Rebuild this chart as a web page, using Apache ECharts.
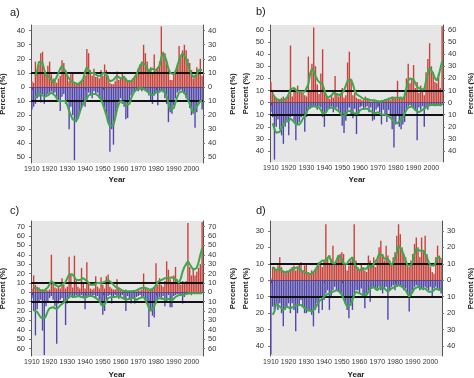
<!DOCTYPE html>
<html>
<head>
<meta charset="utf-8">
<script src="https://cdn.jsdelivr.net/npm/echarts@6/dist/echarts.min.js"></script>
<style>html,body{margin:0;padding:0;background:#fff}#c{width:474px;height:378px}</style>
</head>
<body>
<div id="c"></div>
<script>
// ---- data ----
var years = [];
for (var y = 1910; y <= 2006; y++) years.push(String(y));
var panelLabels = ['a)', 'b)', 'c)', 'd)'];
var yearTickLabels = ['1910','1920','1930','1940','1950','1960','1970','1980','1990','2000'];

var aRed = [4,3,18,12,16,24,25,10,8,15, 18,9,6,5,3,6,8,19,17,12, 8,4,9,10,3,2,2,3,4,5, 8,27,24,12,8,13,7,7,6,12, 8,16,12,8,3,2,2,4,11,5, 6,10,8,6,4,5,4,6,8,10, 13,16,18,30,24,18,13,14,10,23, 12,14,18,43,25,24,18,12,5,5, 10,12,15,29,22,26,30,26,20,17, 12,6,8,14,12,20,8];
var aBlue = [-16,-14,-12,-8,-7,-11,-5,-12,-7,-5, -4,-3,-5,-4,-8,-10,-17,-7,-5,-12, -10,-30,-14,-20,-52,-25,-22,-18,-15,-12, -14,-10,-4,-5,-8,-3,-5,-4,-8,-10, -12,-15,-20,-25,-46,-30,-41,-22,-15,-10, -8,-12,-14,-23,-22,-10,-6,-4,-3,-2, -3,-2,-3,-2,-3,-4,-6,-10,-12,-6, -4,-13,-4,-3,-4,-8,-12,-25,-18,-19, -13,-8,-4,-3,-2,-3,-5,-8,-10,-15, -20,-19,-29,-18,-12,-10,-16];
var aUp = [null,null,8,12,18,19,17,12,8,9, 7,5,3,4,7,10,13,15,14,11, 8,6,4,3,3,3,2,3,4,6, 11,14,13,10,9,10,10,8,7,8, 10,10,9,6,4,4,5,6,8,7, 6,6,7,6,4,4,4,5,7,9, 12,15,17,18,16,13,11,12,13,13, 12,11,15,21,24,22,18,13,10,9, 9,11,15,19,22,24,23,20,16,12, 9,7,7,9,12,13,12];
var aLo = [null,null,-8,-5,-4,-5,-6,-7,-7,-6, -5,-4,-5,-6,-8,-10,-11,-10,-9,-10, -13,-17,-20,-23,-24,-24,-22,-18,-14,-12, -10,-8,-6,-5,-5,-5,-5,-6,-7,-9, -12,-16,-20,-25,-28,-29,-27,-22,-16,-12, -10,-10,-11,-13,-14,-12,-8,-5,-3,-2, -1,-1,-1,-1,-2,-3,-4,-5,-6,-5, -4,-3,-3,-2,-2,-4,-7,-12,-16,-17, -15,-11,-7,-4,-3,-3,-4,-6,-9,-12, -16,-18,-17,-14,-12,-10,-10];

var bRed = [17,10,5,3,2,3,4,5,3,4, 6,47,5,12,10,14,9,10,8,6, 5,38,10,32,62,30,15,7,24,44, 10,6,4,3,6,4,22,8,5,8, 12,4,6,33,42,18,6,8,4,3, 3,2,2,5,3,2,1,1,2,1, 2,1,2,2,3,2,4,2,5,4, 3,18,4,5,3,8,20,32,16,20, 31,12,17,8,14,10,6,25,36,49, 30,25,17,16,24,12,63];
var bBlue = [-8,-12,-47,-20,-14,-22,-27,-34,-20,-15, -27,-12,-10,-15,-31,-18,-16,-12,-10,-24, -12,-6,-5,-4,-3,-4,-6,-3,-4,-12, -20,-8,-5,-4,-3,-8,-5,-4,-6,-10, -19,-25,-15,-6,-4,-10,-13,-5,-26,-10, -4,-3,-6,-4,-3,-8,-4,-15,-14,-6, -4,-8,-18,-6,-10,-16,-6,-10,-22,-37, -18,-10,-20,-22,-18,-16,-5,-3,-2,-3, -4,-7,-31,-4,-6,-3,-20,-4,-6,-3, -2,-2,-3,-2,-2,-3,-2];
var bUp = [null,7,5,3,2,2,2,2,3,4, 7,11,12,12,11,9,8,9,8,9, 10,15,24,28,26,22,19,17,18,15, 10,6,4,5,6,8,9,7,6,6, 8,10,14,18,19,19,15,10,7,6, 5,4,3,3,3,3,2,2,2,1, 1,1,1,2,2,3,3,3,4,4, 4,5,4,3,3,6,12,18,20,20, 19,16,13,12,11,10,11,18,24,29, 28,24,20,18,22,28,34];
var bLo = [null,-17,-22,-25,-26,-24,-21,-18,-16,-17, -15,-13,-14,-16,-18,-19,-18,-16,-13,-11, -8,-5,-4,-3,-3,-3,-3,-4,-6,-9, -10,-8,-5,-4,-4,-5,-5,-6,-7,-9, -11,-12,-10,-7,-6,-7,-8,-9,-10,-9, -6,-5,-5,-5,-5,-6,-7,-8,-9,-9, -8,-9,-10,-9,-10,-11,-11,-12,-14,-16, -17,-17,-16,-14,-12,-9,-6,-4,-3,-3, -4,-6,-7,-8,-7,-6,-5,-4,-3,-2, -2,-2,-2,-2,-2,-2,-2];

var cRed = [4,18,8,6,5,3,3,2,3,2, 3,40,10,5,4,6,4,15,8,4, 6,38,20,5,39,12,6,4,26,10, 4,32,10,4,3,4,17,6,4,16, 8,4,17,19,6,4,3,3,14,5, 2,1,2,3,1,1,1,2,1,1, 2,2,3,20,4,3,2,4,3,5, 31,8,15,8,6,12,33,24,14,10, 18,27,14,10,8,12,10,12,74,27, 18,25,18,22,26,30,75];
var cBlue = [-6,-20,-46,-18,-10,-8,-41,-67,-15,-10, -6,-4,-8,-15,-55,-12,-8,-6,-10,-35, -12,-5,-3,-6,-4,-3,-5,-4,-3,-6, -18,-5,-3,-4,-5,-3,-6,-4,-8,-14, -24,-20,-8,-4,-3,-12,-4,-3,-5,-7, -4,-3,-6,-20,-4,-8,-12,-6,-12,-5, -4,-3,-6,-4,-8,-10,-37,-20,-25,-27, -12,-6,-5,-8,-4,-15,-10,-3,-16,-16, -4,-3,-2,-2,-3,-12,-5,-3,-2,-2, -1,-1,-1,-1,-1,-1,-1];
var cUp = [null,5,5,4,3,2,2,2,3,5, 9,12,11,8,6,6,7,8,9,11, 15,19,21,19,16,13,12,13,15,15, 13,12,10,8,7,8,10,10,9,10, 10,11,12,13,12,10,8,6,5,4, 3,2,2,1,1,1,1,1,1,2, 3,4,5,5,5,4,3,2,3,5, 8,11,12,13,14,15,16,15,16,16, 15,14,12,10,15,22,27,30,33,32, 27,24,24,26,32,40,47];
var cLo = [null,-19,-20,-21,-24,-27,-29,-28,-25,-20, -17,-15,-16,-17,-18,-16,-14,-12,-11,-9, -7,-5,-4,-4,-5,-5,-4,-4,-5,-6, -6,-5,-4,-4,-4,-5,-6,-7,-9,-12, -15,-14,-10,-6,-5,-5,-5,-5,-4,-4, -5,-6,-7,-8,-8,-7,-6,-6,-7,-8, -7,-6,-5,-5,-8,-12,-17,-20,-19,-15, -10,-7,-6,-6,-7,-8,-8,-7,-8,-9, -7,-5,-3,-3,-3,-3,-3,-2,-1,-1, -1,-1,-1,-1,-1,-1,-1];

var dRed = [1,8,8,7,9,14,8,6,5,6, 5,7,8,9,6,8,10,11,6,9, 10,5,4,6,5,7,8,11,10,8, 12,34,14,10,13,21,10,12,14,16, 17,16,10,6,9,12,14,34,12,8, 6,10,8,6,5,15,12,10,14,8, 12,20,24,16,12,21,15,12,10,14, 17,27,34,28,20,16,14,9,8,12, 16,22,26,20,14,26,18,27,16,10, 8,5,4,14,21,15,13];
var dBlue = [-45,-16,-18,-14,-18,-14,-20,-28,-18,-16, -14,-20,-14,-18,-31,-20,-15,-12,-16,-20, -20,-19,-18,-21,-28,-18,-14,-20,-10,-18, -12,-8,-6,-18,-10,-6,-4,-6,-7,-8, -10,-12,-14,-18,-23,-14,-18,-8,-6,-6, -8,-5,-10,-17,-8,-6,-13,-5,-4,-6, -5,-4,-6,-8,-5,-4,-24,-6,-4,-3, -6,-4,-3,-3,-4,-6,-5,-8,-19,-10, -6,-4,-3,-4,-6,-5,-6,-4,-5,-6, -4,-10,-5,-4,-5,-6,-8];
var dUp = [null,8,8,6,7,7,6,5,6,5, 6,6,7,7,7,8,7,6,5,5, 4,4,3,4,5,6,8,10,11,12, 12,12,13,15,11,10,10,12,15,15, 13,10,9,10,12,13,14,11,8,7, 6,6,7,6,7,9,9,8,10,11, 13,16,17,15,13,14,13,11,9,10, 13,17,21,21,18,15,12,9,8,9, 12,16,19,20,18,18,18,17,14,11, 9,8,9,11,14,14,13];
var dLo = [null,-21,-19,-14,-15,-16,-17,-18,-17,-16, -15,-17,-18,-16,-15,-15,-14,-15,-16,-17, -17,-18,-19,-19,-18,-17,-15,-13,-12,-11, -10,-9,-8,-8,-7,-7,-6,-6,-6,-7, -9,-11,-14,-16,-17,-15,-12,-9,-7,-7, -8,-8,-9,-10,-9,-7,-5,-4,-4,-5, -6,-5,-4,-4,-5,-6,-7,-6,-5,-4, -4,-4,-3,-3,-4,-5,-6,-8,-10,-9, -7,-5,-4,-4,-5,-5,-5,-5,-6,-7, -8,-7,-6,-5,-5,-6,-5];

var thresholds = [10, -10];

// ---- layout ----
var panels = [
  {red: aRed, blue: aBlue, up: aUp, lo: aLo, left: 31, top: 25, width: 172, height: 138, min: -54, max: 44},
  {red: bRed, blue: bBlue, up: bUp, lo: bLo, left: 270, top: 25, width: 173, height: 137, min: -49, max: 64},
  {red: cRed, blue: cBlue, up: cUp, lo: cLo, left: 31, top: 221, width: 172, height: 135, min: -68, max: 76},
  {red: dRed, blue: dBlue, up: dUp, lo: dLo, left: 270, top: 221, width: 172, height: 135, min: -46, max: 36}
];

var RED = '#c8423a', BLUE = '#5046aa', GREEN = '#3da84a';
var tickFn = function (idx, val) { return yearTickLabels.indexOf(val) >= 0; };
var absFmt = function (v) { return String(Math.abs(Math.round(v))); };

var grids = [], xAxes = [], yAxes = [], series = [], graphics = [];
panels.forEach(function (p, i) {
  grids.push({left: p.left, top: p.top, width: p.width, height: p.height, show: true,
    backgroundColor: '#e6e6e6', borderWidth: 0, containLabel: false});
  xAxes.push({gridIndex: i, type: 'category', data: years, boundaryGap: true,
    axisLine: {show: true, lineStyle: {color: '#555', width: 1}},
    axisTick: {show: true, alignWithLabel: true, interval: tickFn, length: 3, lineStyle: {color: '#555'}},
    axisLabel: {interval: tickFn, fontSize: 7, color: '#333', margin: 3, fontFamily: 'Liberation Sans'},
    splitLine: {show: false}});
  ['left', 'right'].forEach(function (pos) {
    yAxes.push({gridIndex: i, type: 'value', position: pos, min: p.min, max: p.max,
      minInterval: 10, maxInterval: 10,
      axisLine: {show: true, onZero: false, lineStyle: {color: '#555', width: 1}},
      axisTick: {show: true, length: 2, lineStyle: {color: '#777'}},
      axisLabel: {fontSize: 7.5, color: '#333', margin: pos === 'left' ? 6 : 5, fontFamily: 'Liberation Sans',
        showMinLabel: false, showMaxLabel: false, formatter: absFmt},
      splitLine: {show: false}});
  });
  series.push({type: 'bar', xAxisIndex: i, yAxisIndex: 2 * i, data: p.red, barWidth: '78%', barGap: '-100%',
    itemStyle: {color: RED}, z: 2, animation: false,
    markLine: {silent: true, symbol: ['none', 'none'], label: {show: false}, animation: false,
      lineStyle: {color: '#111', width: 2, type: 'solid'},
      data: thresholds.map(function (t) { return {yAxis: t}; })}});
  series.push({type: 'bar', xAxisIndex: i, yAxisIndex: 2 * i, data: p.blue, barWidth: '78%', barGap: '-100%',
    itemStyle: {color: BLUE}, z: 2, animation: false});
  [p.up, p.lo].forEach(function (d) {
    series.push({type: 'line', xAxisIndex: i, yAxisIndex: 2 * i, data: d, showSymbol: false, symbol: 'none',
      lineStyle: {color: GREEN, width: 2}, z: 5, animation: false, connectNulls: false});
  });
});

// texts
var labelPos = [[10, 7], [256, 6], [10, 205], [256, 205]];
var yearPos = [[117, 180], [357, 180], [117, 375], [356, 375]];
panels.forEach(function (p, i) {
  graphics.push({type: 'text', left: labelPos[i][0], top: labelPos[i][1],
    style: {text: panelLabels[i], font: '11px "Liberation Sans"', fill: '#222'}});
  graphics.push({type: 'text', x: yearPos[i][0], y: yearPos[i][1],
    style: {text: 'Year', font: 'bold 8px "Liberation Sans"', fill: '#222', align: 'center', verticalAlign: 'middle'}});
  var cy = p.top + p.height / 2;
  var lx = (i % 2 === 0) ? 3 : 246;
  var rx = (i % 2 === 0) ? 233 : 471;
  [lx, rx].forEach(function (x) {
    graphics.push({type: 'text', x: x, y: cy, rotation: Math.PI / 2,
      style: {text: 'Percent (%)', font: 'bold 7.5px "Liberation Sans"', fill: '#222', align: 'center', verticalAlign: 'middle'}});
  });
});

var chart = echarts.init(document.getElementById('c'), null, {renderer: 'canvas'});
chart.setOption({animation: false, grid: grids, xAxis: xAxes, yAxis: yAxes, series: series, graphic: graphics});
</script>
</body>
</html>
